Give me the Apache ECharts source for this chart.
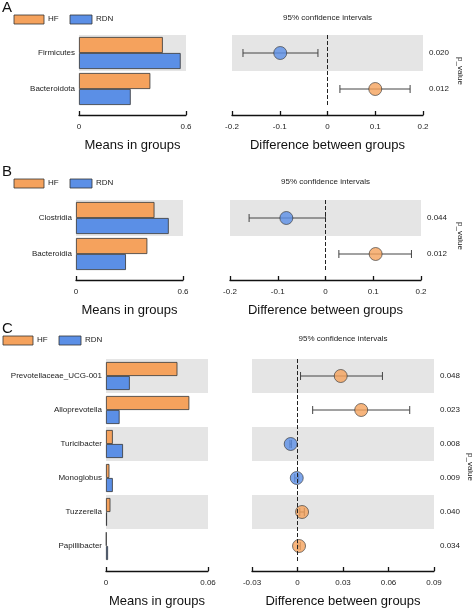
<!DOCTYPE html><html><head><meta charset="utf-8"><script src="https://cdn.jsdelivr.net/npm/echarts@6/dist/echarts.min.js"></script>
<style>html,body{margin:0;padding:0;background:#fff}#c{width:474px;height:609px}</style></head><body><div id="c"></div><script>
// Panel A
const catsA=['Firmicutes','Bacteroidota'];
const hfA=[0.47,0.40], rdnA=[0.57,0.29];
const diffA=[-0.099,0.10], loA=[-0.177,0.026], hiA=[-0.02,0.173];
const pA=['0.020','0.012'];
// Panel B
const catsB=['Clostridia','Bacteroidia'];
const hfB=[0.44,0.40], rdnB=[0.52,0.28];
const diffB=[-0.082,0.105], loB=[-0.16,0.028], hiB=[0.0,0.18];
const pB=['0.044','0.012'];
// Panel C
const catsC=['Prevotellaceae_UCG-001','Alloprevotella','Turicibacter','Monoglobus','Tuzzerella','Papillibacter'];
const hfC=[0.042,0.049,0.004,0.002,0.0026,0.0003], rdnC=[0.014,0.008,0.010,0.004,0.0006,0.0012];
const diffC=[0.0285,0.042,-0.0045,-0.0005,0.003,0.001], loC=[0.002,0.010,-0.005,-0.0018,0.0015,0.0002], hiC=[0.056,0.074,-0.004,0.0008,0.0045,0.0018];
const pC=['0.048','0.023','0.008','0.009','0.040','0.034'];

const OR='#f5a25d', BL='#5b8fe6', BD='#333';
const ch=echarts.init(document.getElementById('c'));
const grids=[],xA=[],yA=[],series=[],graphic=[];
function panel(letter,top,cats,hf,rdn,diff,lo,hi,pv,L,R,barW,labTop){
  const h=cats.length*36, gi=grids.length;
  grids.push({left:L.l,width:L.w,top:top,height:h});
  grids.push({left:R.l,width:R.w,top:top,height:h});
  const ax=(min,max,iv,name,grid)=>({gridIndex:grid,type:'value',min,max,interval:iv,position:'bottom',offset:8,
    axisLine:{show:true,lineStyle:{color:'#111',width:1.3}},axisTick:{show:true,inside:true,length:4,lineStyle:{color:'#111',width:1.3}},
    axisLabel:{fontSize:8,color:'#222',margin:8,formatter:v=>String(Math.round(v*1000)/1000)},splitLine:{show:false},
    name,nameLocation:'middle',nameGap:24,nameTextStyle:{fontSize:13,color:'#111'}});
  const xi=xA.length;
  xA.push(ax(0,L.max,L.max,'Means in groups',gi));
  xA.push(ax(R.min,R.max,R.iv,'Difference between groups',gi+1));
  const yi=yA.length;
  const cy=(grid)=>({gridIndex:grid,type:'category',data:cats,inverse:true,axisLine:{show:false},axisTick:{show:false},
    axisLabel:{fontSize:8,color:'#222',margin:4},splitArea:{show:true,areaStyle:{color:['#e5e5e5','rgba(0,0,0,0)']}}});
  yA.push(cy(gi));
  const y2=cy(gi+1); y2.axisLabel={show:false}; yA.push(y2);
  yA.push({gridIndex:gi+1,type:'category',data:pv,inverse:true,position:'right',axisLine:{show:false},axisTick:{show:false},axisLabel:{fontSize:8,color:'#222',margin:6}});
  series.push({type:'bar',xAxisIndex:xi,yAxisIndex:yi,data:hf,barWidth:barW,barGap:'0%',itemStyle:{color:OR,borderColor:BD,borderWidth:0.8}});
  series.push({type:'bar',xAxisIndex:xi,yAxisIndex:yi,data:rdn,barWidth:barW,barGap:'0%',itemStyle:{color:BL,borderColor:BD,borderWidth:0.8}});
  series.push({type:'custom',xAxisIndex:xi+1,yAxisIndex:yi+1,data:cats.map((c,i)=>[lo[i],hi[i],i]),
    renderItem:(p,api)=>{const a=api.coord([api.value(0),api.value(2)]),b=api.coord([api.value(1),api.value(2)]);
      const s={stroke:'#444',lineWidth:1};
      return {type:'group',children:[{type:'line',shape:{x1:a[0],y1:a[1],x2:b[0],y2:b[1]},style:s},
        {type:'line',shape:{x1:a[0],y1:a[1]-4,x2:a[0],y2:a[1]+4},style:s},{type:'line',shape:{x1:b[0],y1:b[1]-4,x2:b[0],y2:b[1]+4},style:s}]};},z:3});
  series.push({type:'scatter',xAxisIndex:xi+1,yAxisIndex:yi+1,symbolSize:13,z:4,
    data:diff.map((d,i)=>({value:[d,i],itemStyle:{color:d>0?OR:BL,borderColor:BD,borderWidth:0.8}})),
    markLine:{silent:true,symbol:'none',label:{show:false},lineStyle:{type:'dashed',color:'#222',width:1},data:[{xAxis:0}]}});
  graphic.push({type:'text',left:2,top:labTop-4,style:{text:letter,fontSize:15,fill:'#111'}});
  graphic.push({type:'rect',shape:{x:L.lg,y:labTop+11,width:30,height:9},style:{fill:OR,stroke:BD,lineWidth:0.8}});
  graphic.push({type:'text',left:L.lg+34,top:labTop+11,style:{text:'HF',fontSize:8,fill:'#222'}});
  graphic.push({type:'rect',shape:{x:L.lg+56,y:labTop+11,width:22,height:9},style:{fill:BL,stroke:BD,lineWidth:0.8}});
  graphic.push({type:'text',left:L.lg+82,top:labTop+11,style:{text:'RDN',fontSize:8,fill:'#222'}});
  graphic.push({type:'text',x:R.l+R.w/2,y:labTop+14,style:{text:'95% confidence intervals',fontSize:8,fill:'#222',align:'center',verticalAlign:'middle'}});
  graphic.push({type:'text',x:R.pv,y:top+h/2,rotation:-Math.PI/2,style:{text:'p_value',fontSize:8,fill:'#222',align:'center',verticalAlign:'middle'}});
}
panel('A',35,catsA,hfA,rdnA,diffA,loA,hiA,pA,{l:79,w:107,max:0.6,lg:14},{l:232,w:191,min:-0.2,max:0.2,iv:0.1,pv:460},16,4);
panel('B',200,catsB,hfB,rdnB,diffB,loB,hiB,pB,{l:76,w:107,max:0.6,lg:14},{l:230,w:191,min:-0.2,max:0.2,iv:0.1,pv:460},16,168);
panel('C',359,catsC,hfC,rdnC,diffC,loC,hiC,pC,{l:106,w:102,max:0.06,lg:3},{l:252,w:182,min:-0.03,max:0.09,iv:0.03,pv:470},14,325);
ch.setOption({animation:false,grid:grids,xAxis:xA,yAxis:yA,series,graphic});
</script></body></html>
